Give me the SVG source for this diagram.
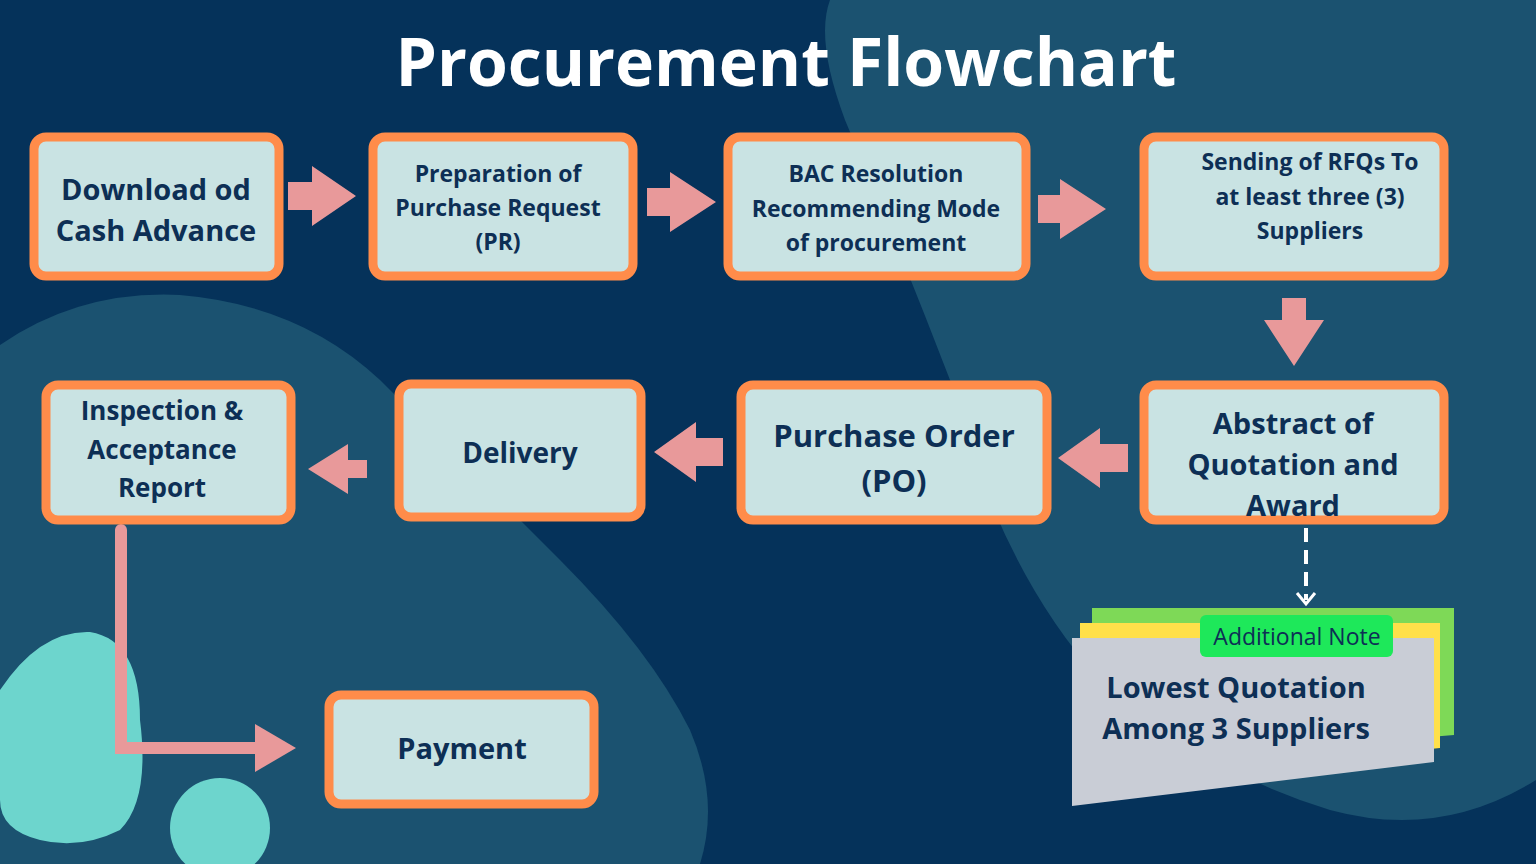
<svg xmlns="http://www.w3.org/2000/svg" width="1536" height="864" viewBox="0 0 1536 864">
<defs><style>
.b{fill:#c9e3e3;stroke:#ff8c4a;stroke-width:9}
.t{font-family:"Open Sans","Noto Sans",sans-serif;font-weight:bold;fill:#0d2f55;text-anchor:middle}
.a{fill:#e8999a}
</style></defs>
<rect width="1536" height="864" fill="#05325a"/>
<path d="M830,0 L1536,0 L1536,780 Q1440,840 1330,810 Q1200,770 1100,680 Q1000,570 950,380 Q900,250 845,120 Q815,40 830,0Z" fill="#1b5270"/>
<path d="M0,345 Q80,290 180,295 Q300,305 380,380 Q470,470 560,560 Q650,650 690,730 Q720,800 700,864 L0,864Z" fill="#1b5270"/>
<path d="M0,690 Q40,630 90,632 Q140,640 140,720 Q150,800 120,830 Q80,850 40,840 Q0,830 0,800Z" fill="#6dd5cd"/>
<circle cx="220" cy="828" r="50" fill="#6dd5cd"/>
<text x="786" y="86" font-family="Open Sans,sans-serif" font-weight="bold" font-size="66" fill="#fff" text-anchor="middle">Procurement Flowchart</text>
<g id="connectors">
<polygon class="a" points="288,182 312,182 312,166 356,196 312,226 312,210 288,210"/>
<polygon class="a" points="647,188 670,188 670,172 716,202 670,232 670,216 647,216"/>
<polygon class="a" points="1038,195 1060,195 1060,179 1106,209 1060,239 1060,223 1038,223"/>
<polygon class="a" points="1282,298 1306,298 1306,320 1324,320 1294,366 1264,320 1282,320"/>
<polygon class="a" points="1128,444 1100,444 1100,428 1058,458 1100,488 1100,472 1128,472"/>
<polygon class="a" points="723,438 696,438 696,422 654,452 696,482 696,466 723,466"/>
<polygon class="a" points="367,460 348,460 348,444 308,469 348,494 348,478 367,478"/>
<polyline points="121,530 121,748 260,748" fill="none" stroke="#e8999a" stroke-width="12" stroke-linecap="round"/>
<polygon class="a" points="255,724 296,748 255,772"/>
<line x1="1306" y1="528" x2="1306" y2="600" stroke="#fff" stroke-width="4" stroke-dasharray="14,8"/>
<polyline points="1297,593 1306,604 1315,593" fill="none" stroke="#fff" stroke-width="3"/>
</g>
<g id="n1"><rect class="b" x="34" y="137" width="245" height="139" rx="12"/><text class="t" font-size="29"><tspan x="156" y="200">Download od</tspan><tspan x="156" y="241">Cash Advance</tspan></text></g>
<g id="n2"><rect class="b" x="373" y="137" width="260" height="139" rx="12"/><text class="t" font-size="23"><tspan x="498" y="182">Preparation of</tspan><tspan x="498" y="216">Purchase Request</tspan><tspan x="498" y="250">(PR)</tspan></text></g>
<g id="n3"><rect class="b" x="728" y="137" width="298" height="139" rx="12"/><text class="t" font-size="23"><tspan x="876" y="182">BAC Resolution</tspan><tspan x="876" y="217">Recommending Mode</tspan><tspan x="876" y="251">of procurement</tspan></text></g>
<g id="n4"><rect class="b" x="1144" y="137" width="300" height="139" rx="12"/><text class="t" font-size="23"><tspan x="1310" y="170">Sending of RFQs To</tspan><tspan x="1310" y="205">at least three (3)</tspan><tspan x="1310" y="239">Suppliers</tspan></text></g>
<g id="n5"><rect class="b" x="1144" y="385" width="300" height="135" rx="12"/><text class="t" font-size="29"><tspan x="1293" y="434">Abstract of</tspan><tspan x="1293" y="475">Quotation and</tspan><tspan x="1293" y="516">Award</tspan></text></g>
<g id="n6"><rect class="b" x="741" y="385" width="306" height="135" rx="12"/><text class="t" font-size="31"><tspan x="894" y="447">Purchase Order</tspan><tspan x="894" y="492">(PO)</tspan></text></g>
<g id="n7"><rect class="b" x="399" y="384" width="242" height="133" rx="12"/><text class="t" font-size="28" x="520" y="463">Delivery</text></g>
<g id="n8"><rect class="b" x="46" y="385" width="245" height="135" rx="12"/><text class="t" font-size="26"><tspan x="162" y="420">Inspection &amp;</tspan><tspan x="162" y="459">Acceptance</tspan><tspan x="162" y="497">Report</tspan></text></g>
<g id="n9"><rect class="b" x="329" y="695" width="265" height="109" rx="12"/><text class="t" font-size="29" x="462" y="759">Payment</text></g>
<g id="note">
<polygon points="1092,608 1454,608 1454,735 1092,765" fill="#7ed957"/>
<polygon points="1080,623 1440,623 1440,748 1080,785" fill="#ffe04a"/>
<polygon points="1072,638 1434,638 1434,762 1072,806" fill="#c9cdd6"/>
<rect x="1200" y="615" width="193" height="42" rx="6" fill="#1ee85a"/>
<text x="1297" y="645" font-family="Open Sans,sans-serif" font-size="23" fill="#0d2f55" text-anchor="middle">Additional Note</text>
<text class="t" font-size="29"><tspan x="1236" y="698">Lowest Quotation</tspan><tspan x="1236" y="739">Among 3 Suppliers</tspan></text>
</g>
</svg>
